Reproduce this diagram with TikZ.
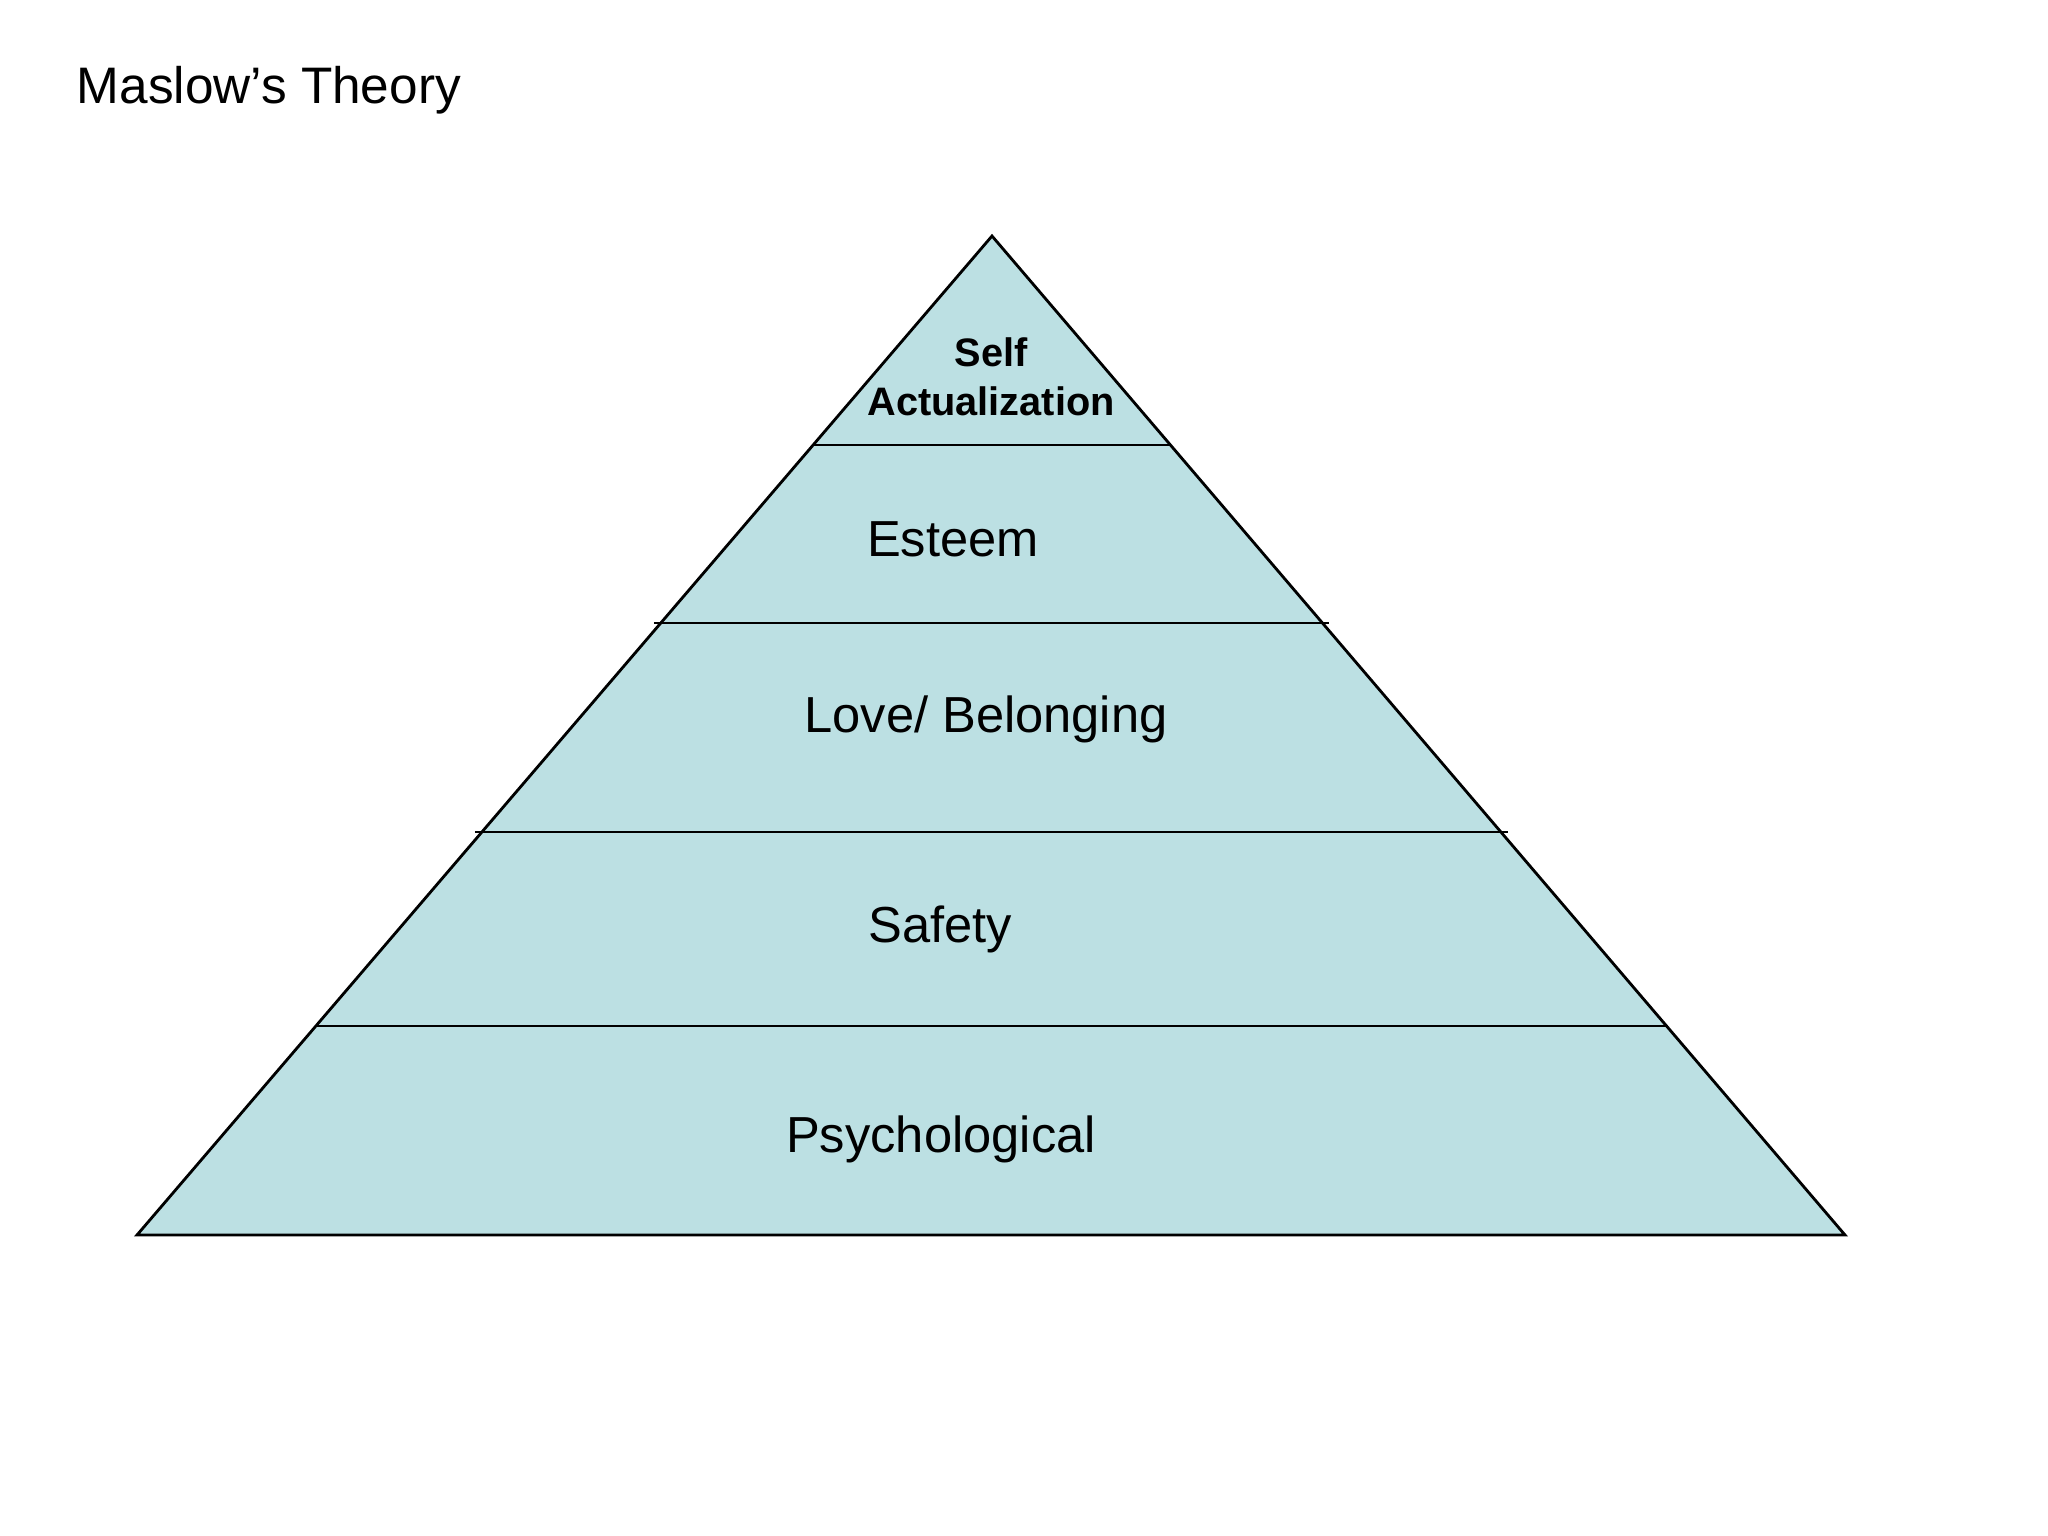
\documentclass[tikz,border=0pt]{standalone}
\usepackage{fontspec}
\setmainfont{Liberation Sans}
\usetikzlibrary{calc}
\definecolor{pyrfill}{RGB}{188,224,227}

\begin{document}
\begin{tikzpicture}[
  x=0.01cm, y=-0.01cm,
  level/.style={font=\fontsize{14.4}{17}\selectfont,anchor=base,inner sep=0pt},
  tier/.style={line width=0.8pt}
]
\useasboundingbox (0,0) rectangle (2048,1536);
\node[anchor=base west,inner sep=0pt,font=\fontsize{14.6}{17}\selectfont] (title) at (76,103) {Maslow’s Theory};

\coordinate (apex) at (992,236);
\coordinate (bl) at (137,1235);
\coordinate (br) at (1845,1235);
\draw[fill=pyrfill,line width=0.8pt] (apex) -- (bl) -- (br) -- cycle;

% lines between the levels
\foreach \t/\ext in {0.2092/0,0.3874/0.07,0.5966/0.07,0.7908/0}{
  \draw[tier,shorten <=-\ext cm,shorten >=-\ext cm] ($(apex)!\t!(bl)$) -- ($(apex)!\t!(br)$);
}

\node[level,anchor=center,align=center,font=\bfseries\fontsize{11.3}{13.8}\selectfont] (selfact) at (991,377) {Self\\Actualization};
\node[level] (esteem) at (953,556) {Esteem};
\node[level] (love) at (986,732) {Love/ Belonging};
\node[level] (safety) at (940,942) {Safety};
\node[level] (phys) at (941,1152) {Psychological};
\end{tikzpicture}
\end{document}
